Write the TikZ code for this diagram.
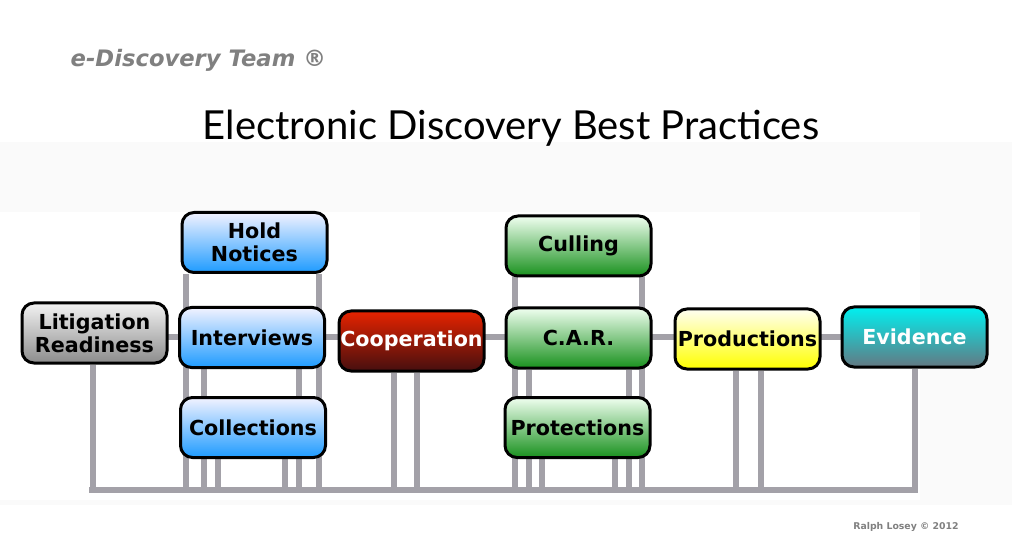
\documentclass[tikz,border=0pt]{standalone}
\usepackage{fontspec}
\setmainfont{DejaVu Sans}
\newfontfamily\titlefont{Lato}
\usetikzlibrary{calc}
\pgfdeclarelayer{bg}
\pgfsetlayers{bg,main}
\definecolor{lineg}{HTML}{A3A1A8}
\tikzset{
  pbox/.style={draw=black, line width=2.25pt, rounded corners=9pt, minimum width=108.75pt, minimum height=45pt,
    inner sep=0pt, align=center, font=\bfseries\fontsize{15.5}{17}\selectfont},
  greyb/.style={pbox, top color=white!95!black, bottom color=black!45},
  blueb/.style={pbox, top color=blue!5!white, bottom color={rgb,255:red,30;green,155;blue,255}},
  redb/.style={pbox, top color={rgb,255:red,230;green,35;blue,0}, bottom color={rgb,255:red,70;green,15;blue,15}, text=white},
  greenb/.style={pbox, top color=green!6!white, bottom color={rgb,255:red,25;green,145;blue,30}},
  yellowb/.style={pbox, top color=yellow!5!white, bottom color=yellow},
  cyanb/.style={pbox, top color={rgb,255:red,0;green,240;blue,240}, bottom color={rgb,255:red,100;green,120;blue,130}, text=white},
  conn/.style={draw=lineg, line width=4.5pt},
}
\begin{document}
\begin{tikzpicture}[x=0.75pt,y=-0.75pt]
\useasboundingbox (0,0) rectangle (1012,548);
\node[font=\bfseries\itshape\fontsize{17}{20}\selectfont, text=black!50, anchor=west] (brand) at (66,60) {e-Discovery Team ®};
\node[font=\titlefont\fontsize{30}{34}\selectfont] (title) at (511,128) {Electronic Discovery Best Practices};
\node[font=\bfseries\fontsize{7}{8}\selectfont, text=black!50] (cr) at (906,527) {Ralph Losey © 2012};

\node[greyb] (lit) at (94.5,333) {Litigation\\Readiness};
\node[blueb] (hold) at (254.5,242.5) {Hold\\Notices};
\node[blueb] (int) at (252,337.5) {Interviews};
\node[blueb] (col) at (253,427.5) {Collections};
\node[redb] (coop) at (411.5,341) {Cooperation};
\node[greenb] (cull) at (578.5,246) {Culling};
\node[greenb] (car) at (578.5,338) {C.A.R.};
\node[greenb] (prot) at (577.5,427.5) {Protections};
\node[yellowb] (prod) at (747.5,339) {Productions};
\node[cyanb] (evi) at (914.5,337) {Evidence};

\coordinate (busL) at (89,490);
\coordinate (busR) at (918,490);
\begin{pgfonlayer}{bg}
\fill[black!2] (0,142) rectangle (1012,505);
\fill[white] (0,212) rectangle (920,500);
\draw[conn] (busL) -- (busR);
\draw[conn] (lit.center |- int.center) -- (evi.center |- int.center);
\draw[conn] ([xshift=-1.5pt]lit.south) -- ([xshift=-1.5pt]lit.south |- busL);
\foreach \n/\a/\b in {hold/5/-10, int/26/-27, col/39/-42, cull/10/-11, car/24/-24, prot/38/-37}{
  \draw[conn] ([xshift=\a*0.75pt]\n.south west) -- ([xshift=\a*0.75pt]\n.south west |- busL);
  \draw[conn] ([xshift=\b*0.75pt]\n.south east) -- ([xshift=\b*0.75pt]\n.south east |- busL);
}
\foreach \n/\a in {coop/56, coop/79, prod/62, prod/87}{
  \draw[conn] ([xshift=\a*0.75pt]\n.south west) -- ([xshift=\a*0.75pt]\n.south west |- busL);
}
\draw[conn] (evi.south) -- (evi.south |- busR);
\end{pgfonlayer}
\end{tikzpicture}
\end{document}
